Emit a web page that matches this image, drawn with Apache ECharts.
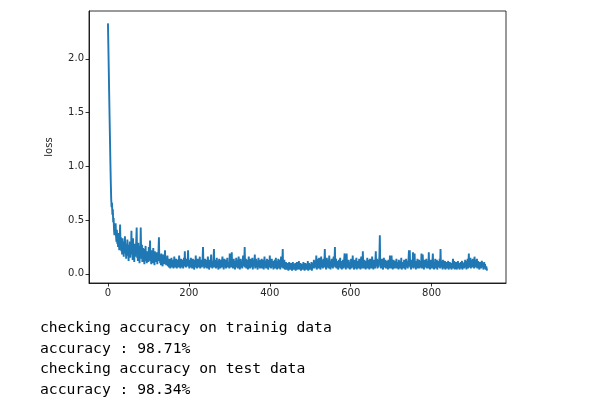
<!DOCTYPE html>
<html>
<head>
<meta charset="utf-8">
<script src="https://cdn.jsdelivr.net/npm/echarts@6/dist/echarts.min.js"></script>
<style>
html,body{margin:0;padding:0;background:#fff;}
#chart{width:597px;height:400px;}
</style>
</head>
<body>
<div id="chart"></div>
<script>
// loss per training step (index = step)
const loss = [
2.33,2.12,1.90,1.68,1.46,1.25,1.04,0.85,0.70,0.62,
0.66,0.55,0.60,0.48,0.52,0.41,0.36,0.44,0.38,0.47,
0.35,0.30,0.41,0.28,0.33,0.25,0.38,0.29,0.22,0.31,
0.46,0.27,0.34,0.21,0.29,0.18,0.33,0.24,0.27,0.16,
0.30,0.22,0.35,0.19,0.25,0.14,0.28,0.21,0.32,0.17,
0.23,0.12,0.27,0.19,0.30,0.15,0.24,0.18,0.40,0.20,
0.26,0.13,0.33,0.17,0.22,0.11,0.28,0.16,0.25,0.20,
0.19,0.43,0.15,0.24,0.12,0.29,0.18,0.22,0.10,0.26,
0.16,0.43,0.21,0.14,0.27,0.11,0.19,0.24,0.13,0.20,
0.09,0.23,0.17,0.26,0.12,0.18,0.10,0.21,0.15,0.19,
0.11,0.25,0.14,0.20,0.31,0.12,0.17,0.09,0.22,0.15,
0.19,0.10,0.24,0.13,0.16,0.08,0.21,0.14,0.18,0.11,
0.15,0.20,0.09,0.17,0.13,0.22,0.34,0.12,0.18,0.10,
0.16,0.08,0.19,0.12,0.14,0.07,0.18,0.11,0.15,0.09,
0.13,0.22,0.10,0.16,0.08,0.14,0.11,0.17,0.07,0.12,
0.10,0.06,0.14,0.09,0.05,0.12,0.08,0.15,0.06,0.11,
0.07,0.13,0.05,0.10,0.16,0.08,0.12,0.06,0.09,0.14,
0.05,0.11,0.08,0.13,0.06,0.10,0.17,0.07,0.12,0.05,
0.09,0.14,0.06,0.11,0.08,0.13,0.05,0.10,0.15,0.07,
0.21,0.09,0.12,0.06,0.10,0.14,0.07,0.11,0.22,0.08,
0.13,0.05,0.09,0.12,0.06,0.15,0.08,0.11,0.05,0.10,
0.14,0.07,0.12,0.04,0.09,0.13,0.06,0.17,0.08,0.11,
0.05,0.10,0.14,0.07,0.12,0.06,0.09,0.16,0.05,0.11,
0.08,0.13,0.06,0.10,0.15,0.25,0.07,0.12,0.05,0.09,
0.14,0.06,0.11,0.08,0.13,0.05,0.10,0.16,0.07,0.12,
0.04,0.09,0.13,0.06,0.11,0.18,0.07,0.10,0.05,0.12,
0.08,0.14,0.23,0.06,0.11,0.07,0.13,0.05,0.10,0.15,
0.06,0.12,0.08,0.04,0.11,0.14,0.07,0.10,0.05,0.13,
0.09,0.06,0.12,0.16,0.07,0.11,0.04,0.10,0.14,0.06,
0.12,0.08,0.05,0.13,0.09,0.15,0.06,0.11,0.07,0.10,
0.05,0.19,0.08,0.12,0.06,0.10,0.20,0.07,0.13,0.05,
0.09,0.14,0.06,0.11,0.04,0.12,0.08,0.15,0.06,0.10,
0.13,0.05,0.09,0.16,0.07,0.11,0.04,0.10,0.14,0.06,
0.12,0.08,0.05,0.11,0.17,0.07,0.10,0.13,0.25,0.06,
0.09,0.14,0.05,0.11,0.08,0.13,0.04,0.10,0.16,0.07,
0.12,0.05,0.09,0.14,0.06,0.11,0.08,0.15,0.04,0.10,
0.13,0.07,0.11,0.18,0.05,0.09,0.14,0.06,0.12,0.08,
0.04,0.11,0.15,0.06,0.10,0.13,0.05,0.09,0.12,0.07,
0.14,0.05,0.10,0.08,0.13,0.04,0.11,0.16,0.06,0.09,
0.12,0.05,0.10,0.14,0.07,0.11,0.04,0.09,0.13,0.06,
0.17,0.08,0.11,0.05,0.10,0.14,0.06,0.09,0.12,0.04,
0.11,0.07,0.13,0.05,0.09,0.15,0.06,0.10,0.04,0.12,
0.08,0.14,0.05,0.10,0.07,0.13,0.04,0.11,0.16,0.06,
0.09,0.12,0.23,0.05,0.10,0.07,0.13,0.04,0.09,0.06,
0.11,0.04,0.08,0.10,0.05,0.09,0.03,0.07,0.11,0.05,
0.08,0.04,0.10,0.06,0.09,0.03,0.07,0.11,0.05,0.08,
0.04,0.09,0.06,0.10,0.03,0.08,0.05,0.11,0.04,0.07,
0.09,0.05,0.12,0.04,0.08,0.06,0.10,0.03,0.07,0.09,
0.05,0.08,0.04,0.11,0.06,0.09,0.03,0.07,0.10,0.05,
0.08,0.04,0.09,0.06,0.12,0.03,0.07,0.10,0.05,0.08,
0.04,0.09,0.06,0.11,0.03,0.08,0.05,0.10,0.07,0.13,
0.05,0.09,0.12,0.06,0.10,0.17,0.04,0.08,0.14,0.06,
0.11,0.05,0.15,0.07,0.12,0.04,0.09,0.16,0.06,0.10,
0.13,0.05,0.08,0.14,0.06,0.11,0.23,0.07,0.12,0.04,
0.10,0.15,0.06,0.09,0.13,0.05,0.11,0.17,0.07,0.10,
0.04,0.12,0.08,0.14,0.06,0.10,0.05,0.13,0.16,0.07,
0.11,0.25,0.06,0.09,0.14,0.05,0.10,0.07,0.12,0.04,
0.09,0.13,0.06,0.11,0.15,0.05,0.08,0.12,0.04,0.10,
0.07,0.13,0.05,0.09,0.14,0.19,0.06,0.11,0.04,0.10,
0.19,0.06,0.12,0.08,0.05,0.13,0.07,0.10,0.04,0.11,
0.08,0.14,0.05,0.10,0.06,0.17,0.07,0.12,0.04,0.09,
0.13,0.05,0.10,0.07,0.15,0.04,0.11,0.08,0.12,0.05,
0.09,0.14,0.06,0.11,0.04,0.10,0.16,0.07,0.12,0.05,
0.21,0.08,0.11,0.05,0.13,0.07,0.10,0.04,0.12,0.06,
0.09,0.15,0.05,0.11,0.08,0.13,0.04,0.10,0.14,0.06,
0.12,0.05,0.09,0.16,0.07,0.11,0.04,0.13,0.08,0.10,
0.05,0.12,0.21,0.07,0.10,0.14,0.05,0.09,0.13,0.06,
0.11,0.17,0.36,0.08,0.12,0.05,0.10,0.14,0.06,0.09,
0.04,0.11,0.15,0.06,0.10,0.08,0.13,0.05,0.09,0.12,
0.06,0.10,0.04,0.13,0.08,0.11,0.05,0.17,0.07,0.12,
0.05,0.17,0.08,0.11,0.04,0.10,0.13,0.06,0.09,0.05,
0.12,0.07,0.10,0.14,0.05,0.09,0.06,0.11,0.04,0.13,
0.08,0.10,0.05,0.12,0.07,0.15,0.04,0.09,0.11,0.06,
0.10,0.05,0.13,0.08,0.11,0.04,0.09,0.14,0.06,0.10,
0.12,0.05,0.09,0.14,0.22,0.07,0.22,0.06,0.11,0.04,
0.10,0.13,0.06,0.09,0.20,0.05,0.11,0.08,0.19,0.06,
0.10,0.04,0.12,0.07,0.09,0.14,0.05,0.11,0.08,0.13,
0.05,0.10,0.06,0.12,0.08,0.19,0.05,0.11,0.18,0.07,
0.10,0.04,0.13,0.08,0.11,0.06,0.09,0.14,0.05,0.10,
0.07,0.12,0.05,0.20,0.08,0.11,0.04,0.10,0.13,0.06,
0.09,0.05,0.12,0.19,0.07,0.10,0.04,0.11,0.08,0.14,
0.05,0.10,0.07,0.13,0.04,0.09,0.12,0.06,0.11,0.08,
0.14,0.05,0.23,0.09,0.12,0.06,0.10,0.04,0.13,0.07,
0.10,0.05,0.09,0.12,0.04,0.08,0.11,0.06,0.10,0.05,
0.08,0.12,0.04,0.09,0.06,0.11,0.05,0.08,0.10,0.04,
0.09,0.06,0.11,0.14,0.05,0.08,0.12,0.04,0.10,0.06,
0.08,0.11,0.04,0.09,0.06,0.12,0.05,0.08,0.10,0.04,
0.09,0.06,0.11,0.05,0.08,0.12,0.04,0.09,0.07,0.10,
0.05,0.11,0.08,0.13,0.06,0.10,0.04,0.12,0.07,0.14,
0.05,0.10,0.19,0.06,0.12,0.08,0.15,0.05,0.11,0.13,
0.06,0.10,0.14,0.07,0.12,0.05,0.16,0.09,0.13,0.06,
0.11,0.08,0.14,0.05,0.10,0.12,0.06,0.09,0.04,0.11,
0.07,0.10,0.05,0.09,0.12,0.13,0.06,0.10,0.04,0.08,
0.11,0.05,0.09,0.06,0.04,0.07,0.05,0.03
];
const xTicks = [0, 200, 400, 600, 800];
const yTicks = [0.0, 0.5, 1.0, 1.5, 2.0];
const yAxisName = 'loss';
const outputLines = [
  'checking accuracy on trainig data',
  'accuracy : 98.71%',
  'checking accuracy on test data',
  'accuracy : 98.34%'
];

const n = loss.length;
const xMin = -(n - 1) * 0.05, xMax = (n - 1) * 1.05;
let lo = Math.min(...loss), hi = Math.max(...loss);
const yPad = (hi - lo) * 0.05;
const seriesData = loss.map((v, i) => [i, v]);

const chart = echarts.init(document.getElementById('chart'), null, {renderer: 'canvas'});
const axisFont = {fontFamily: 'DejaVu Sans', fontSize: 10, color: '#262626'};
const option = {
  animation: false,
  backgroundColor: '#ffffff',
  grid: {left: 89, top: 11, width: 417, height: 272, show: true, borderColor: '#000', borderWidth: 0.8, backgroundColor: 'transparent'},
  xAxis: {
    type: 'value', min: xMin, max: xMax,
    splitLine: {show: false},
    axisLine: {show: true, onZero: false, lineStyle: {color: '#000', width: 0.8}},
    axisTick: {show: true, customValues: xTicks, length: 3.5, lineStyle: {color: '#000', width: 0.8}},
    axisLabel: Object.assign({customValues: xTicks, margin: 5, formatter: v => String(Math.round(v))}, axisFont)
  },
  yAxis: {
    type: 'value', min: lo - yPad, max: hi + yPad,
    name: yAxisName, nameLocation: 'middle', nameGap: 35, nameRotate: 90,
    nameTextStyle: {fontFamily: 'DejaVu Sans', fontSize: 10, color: '#262626'},
    splitLine: {show: false},
    axisLine: {show: true, onZero: false, lineStyle: {color: '#000', width: 0.8}},
    axisTick: {show: true, customValues: yTicks, length: 3.5, lineStyle: {color: '#000', width: 0.8}},
    axisLabel: Object.assign({customValues: yTicks, margin: 5, formatter: v => v.toFixed(1)}, axisFont)
  },
  series: [{
    type: 'line', data: seriesData, showSymbol: false, symbol: 'none',
    lineStyle: {color: '#1f77b4', width: 1.9}, itemStyle: {color: '#1f77b4'}
  }],
  graphic: outputLines.map((t, i) => ({
    type: 'text', left: 40, top: 321 + i * 20.5,
    style: {text: t, fontFamily: 'DejaVu Sans Mono', fontSize: 14.7, fill: '#000'}
  }))
};
chart.setOption(option);
</script>
</body>
</html>
